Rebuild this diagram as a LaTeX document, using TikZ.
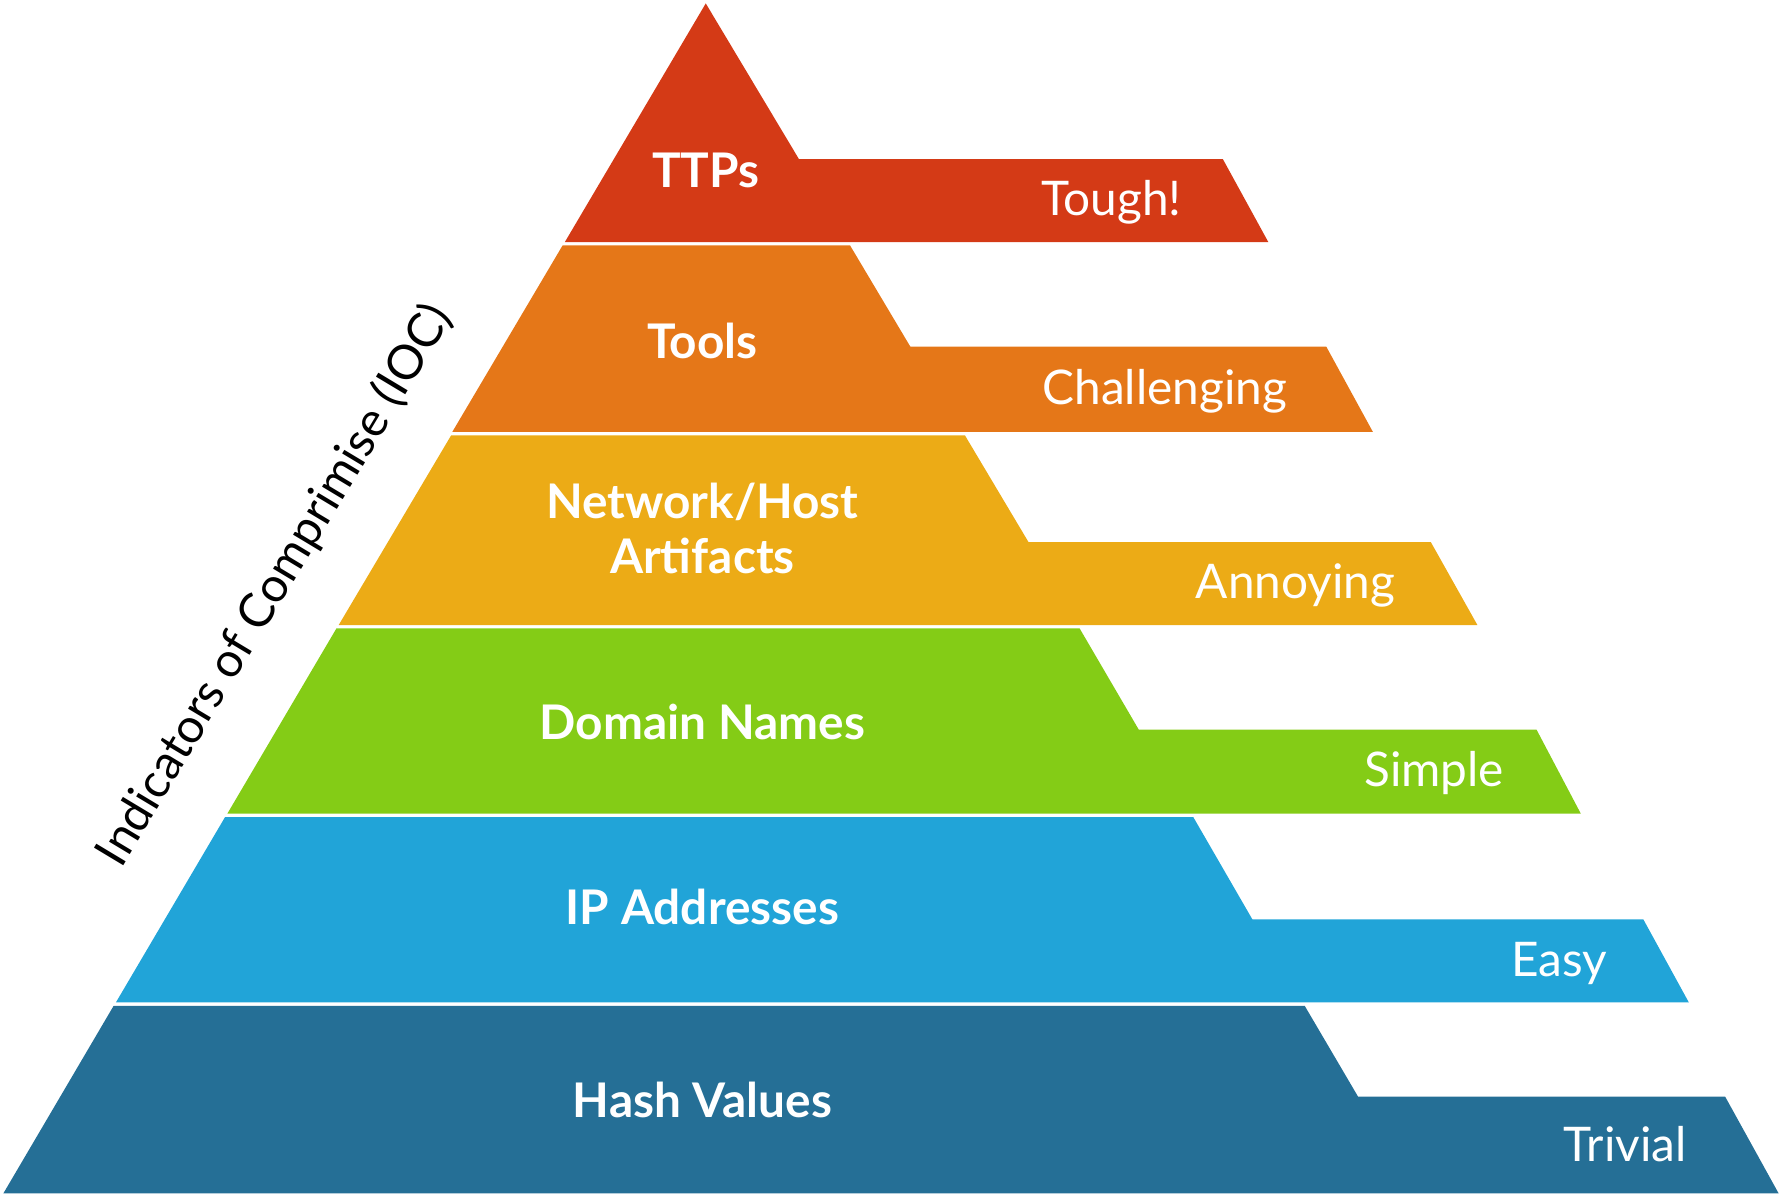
\documentclass[tikz,border=0pt]{standalone}
\usepackage{fontspec}
\setmainfont{Lato}
\definecolor{cTTP}{HTML}{D43A16}
\definecolor{cTool}{HTML}{E57718}
\definecolor{cNet}{HTML}{ECAB16}
\definecolor{cDom}{HTML}{84CC16}
\definecolor{cIP}{HTML}{21A4D8}
\definecolor{cHash}{HTML}{256F96}
\tikzset{
  lvl/.style={text=white,font=\fontsize{21}{24}\selectfont\bfseries,align=center},
  diff/.style={text=white,font=\fontsize{21}{24}\selectfont},
}
\begin{document}
\begin{tikzpicture}[x=0.5pt,y=-0.5pt]
\useasboundingbox (0,0) rectangle (1568,1056);
\fill[cTTP] (621,3) -- (703,140) -- (1076,140) -- (1116,213) -- (497,213) -- cycle;
\fill[cTool] (495,216) -- (748,216) -- (801,305) -- (1167,305) -- (1208,380) -- (398,380) -- cycle;
\fill[cNet] (397,383) -- (849,383) -- (905,477) -- (1259,477) -- (1300,550) -- (298,550) -- cycle;
\fill[cDom] (296,553) -- (950,553) -- (1002,642) -- (1352,642) -- (1391,716) -- (200,716) -- cycle;
\fill[cIP] (198,719) -- (1050,719) -- (1102,809) -- (1446,809) -- (1486,882) -- (102,882) -- cycle;
\fill[cHash] (100,885) -- (1148,885) -- (1195,965) -- (1518,965) -- (1565,1050) -- (3,1050) -- cycle;
\node[lvl] (ttp) at (621,150) {TTPs};
\node[lvl] (tools) at (618,300) {Tools};
\node[lvl] (net) at (618,465) {Network/Host\\Artifacts};
\node[lvl] (dom) at (618,635) {Domain Names};
\node[lvl] (ip) at (618,798) {IP Addresses};
\node[lvl] (hash) at (618,968) {Hash Values};
\node[diff] (d1) at (978,178) {Tough!};
\node[diff] (d2) at (1025,344) {Challenging};
\node[diff] (d3) at (1140,515) {Annoying};
\node[diff] (d4) at (1262,680) {Simple};
\node[diff] (d5) at (1372,848) {Easy};
\node[diff] (d6) at (1430,1007) {Trivial};
\node[font=\fontsize{21}{24}\selectfont,rotate=59] (ioc) at (242,515) {Indicators of Comprimise (IOC)};
\end{tikzpicture}
\end{document}
